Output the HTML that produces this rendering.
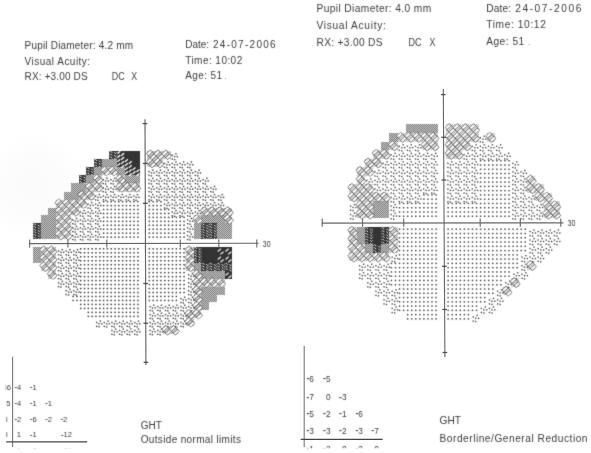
<!DOCTYPE html><html><head><meta charset="utf-8"><title>Visual field</title>
<style>html,body{margin:0;padding:0;background:#fff}svg{display:block}text{font-family:"Liberation Sans",sans-serif;fill:#3a3a3a}</style></head><body>
<svg width="591" height="453" viewBox="0 0 591 453">
<filter id="soft" x="0" y="0" width="100%" height="100%" filterUnits="userSpaceOnUse" color-interpolation-filters="sRGB"><feConvolveMatrix order="3" kernelMatrix="0.02 0.08 0.02 0.08 0.6 0.08 0.02 0.08 0.02" divisor="1" edgeMode="duplicate" preserveAlpha="true"/></filter>
<g filter="url(#soft)">
<rect width="591" height="453" fill="#fff"/>
<radialGradient id="haze" cx="34" cy="186" r="52" gradientUnits="userSpaceOnUse"><stop offset="0" stop-color="#000" stop-opacity="0.018"/><stop offset="0.6" stop-color="#000" stop-opacity="0.012"/><stop offset="1" stop-color="#000" stop-opacity="0"/></radialGradient><rect x="0" y="125" width="95" height="125" fill="url(#haze)"/>
<text x="24.6" y="48.5" font-size="10" textLength="108.4" lengthAdjust="spacing">Pupil Diameter: 4.2 mm</text>
<text x="24.6" y="64.8" font-size="10" textLength="65.5" lengthAdjust="spacing">Visual Acuity:</text>
<text x="24.6" y="79.6" font-size="10" textLength="63" lengthAdjust="spacing">RX: +3.00 DS</text>
<text x="111.7" y="79.6" font-size="10" textLength="12.9" lengthAdjust="spacingAndGlyphs">DC</text>
<text x="131.2" y="79.6" font-size="10" textLength="5.9" lengthAdjust="spacingAndGlyphs">X</text>
<text x="185.2" y="48" font-size="10" textLength="23.9" lengthAdjust="spacing">Date:</text>
<text x="213" y="48" font-size="10" textLength="62.6" lengthAdjust="spacing">24-07-2006</text>
<text x="185.2" y="63.6" font-size="10" textLength="57" lengthAdjust="spacing">Time: 10:02</text>
<text x="185.2" y="79.2" font-size="10" textLength="36.8" lengthAdjust="spacing">Age: 51</text>
<text x="224.6" y="79.2" font-size="7" fill="#c4c4c4">.</text>
<text x="316.5" y="12.3" font-size="10.2" textLength="114.7" lengthAdjust="spacing">Pupil Diameter: 4.0 mm</text>
<text x="316.5" y="28.6" font-size="10.2" textLength="69.3" lengthAdjust="spacing">Visual Acuity:</text>
<text x="316.5" y="45.8" font-size="10.2" textLength="66" lengthAdjust="spacing">RX: +3.00 DS</text>
<text x="408.4" y="45.8" font-size="10.2" textLength="13.1" lengthAdjust="spacingAndGlyphs">DC</text>
<text x="429.4" y="45.8" font-size="10.2" textLength="5.9" lengthAdjust="spacingAndGlyphs">X</text>
<text x="486.2" y="11.5" font-size="10.2" textLength="24.8" lengthAdjust="spacing">Date:</text>
<text x="515.2" y="11.5" font-size="10.2" textLength="66.2" lengthAdjust="spacing">24-07-2006</text>
<text x="486.2" y="28" font-size="10.2" textLength="59.6" lengthAdjust="spacing">Time: 10:12</text>
<text x="486.2" y="45" font-size="10.2" textLength="38" lengthAdjust="spacing">Age: 51</text>
<text x="527.9" y="45" font-size="7" fill="#c4c4c4">.</text>
<text x="140.7" y="428.6" font-size="10">GHT</text>
<text x="140.7" y="443.4" font-size="10" textLength="100.2" lengthAdjust="spacing">Outside normal limits</text>
<text x="439.5" y="423.6" font-size="10.2">GHT</text>
<text x="439.5" y="441.6" font-size="10.2" textLength="148" lengthAdjust="spacing">Borderline/General Reduction</text>
<defs>
<pattern id="chk" width="2" height="2" patternUnits="userSpaceOnUse"><rect width="2" height="2" fill="#c6c6c6"/><rect width="1" height="1" fill="#7c7c7c"/><rect x="1" y="1" width="1" height="1" fill="#7c7c7c"/></pattern>
<pattern id="chkx" width="2" height="2" patternUnits="userSpaceOnUse"><rect width="2" height="2" fill="#e6e6e6"/><rect width="1" height="1" fill="#a6a6a6"/><rect x="1" y="1" width="1" height="1" fill="#a6a6a6"/></pattern>
<pattern id="chkRx" width="2" height="2" patternUnits="userSpaceOnUse"><rect width="2" height="2" fill="#efefef"/><rect width="1" height="1" fill="#b4b4b4"/><rect x="1" y="1" width="1" height="1" fill="#b4b4b4"/></pattern>
<g id="Ld" fill="#404040"><rect x="1.18" y="1.24" width="1.5" height="1.5"/><rect x="5.03" y="1.24" width="1.5" height="1.5"/><rect x="1.18" y="5.21" width="1.5" height="1.5"/><rect x="5.03" y="5.21" width="1.5" height="1.5"/></g><g id="Ls" fill="#404040"><rect x="5.67" y="2.12" width="1.4" height="1.4"/><rect x="1.96" y="3.46" width="1.4" height="1.4"/><rect x="4.32" y="4.81" width="1.4" height="1.4"/><rect x="7.02" y="4.81" width="1.4" height="1.4"/><rect x="1.96" y="7.3" width="1.4" height="1.4"/><rect x="4.32" y="7.76" width="1.4" height="1.4"/></g><g id="Lu" fill="#404040"><rect x="4.67" y="2.42" width="1.4" height="1.4"/><rect x="0.96" y="3.76" width="1.4" height="1.4"/><rect x="3.32" y="5.11" width="1.4" height="1.4"/><rect x="6.02" y="5.11" width="1.4" height="1.4"/><rect x="0.96" y="7.6" width="1.4" height="1.4"/><rect x="3.32" y="8.06" width="1.4" height="1.4"/></g><g id="Lx"><path d="M0 3.98L3.85 7.95M3.85 0L7.7 3.98" stroke="#505050" stroke-width="0.75" fill="none"/><path d="M-0.35 4.01L4.2 -0.03" stroke="#484848" stroke-width="3.3"/><path d="M3.5 7.98L8.05 3.94" stroke="#484848" stroke-width="3.3"/><path d="M-0.04 3.73L3.89 0.25" stroke="#fff" stroke-width="2.3"/><path d="M3.81 7.7L7.74 4.22" stroke="#fff" stroke-width="2.3"/></g><g id="Lk"><path d="M1.23 0.26L2.93 1.96" stroke="#fff" stroke-width="1"/><path d="M1.23 2.97L2.93 4.67" stroke="#fff" stroke-width="1"/><path d="M1.23 5.67L2.93 7.37" stroke="#fff" stroke-width="1"/><path d="M4.85 1.53L6.55 3.23" stroke="#fff" stroke-width="1"/><path d="M4.85 4.24L6.55 5.94" stroke="#fff" stroke-width="1"/><path d="M4.85 6.94L6.55 8.64" stroke="#fff" stroke-width="1"/><path d="M0 1.59l1.1 -0.9h-1.1z M7.7 2.39l-1.1 -0.9h1.1zM0 4.21l1.1 -0.9h-1.1z M7.7 5.01l-1.1 -0.9h1.1zM0 6.84l1.1 -0.9h-1.1z M7.7 7.63l-1.1 -0.9h1.1z" fill="#fff"/></g><g id="Lv"><path d="M0.49 2.86L3.36 0.32" stroke="#f4f4f4" stroke-width="1.4"/><path d="M4.34 4.85L7.21 2.31" stroke="#f4f4f4" stroke-width="1.4"/><path d="M0.49 6.83L3.36 4.3" stroke="#f4f4f4" stroke-width="1.4"/><path d="M4.34 8.82L7.21 6.28" stroke="#f4f4f4" stroke-width="1.4"/></g><g id="Lw"><path d="M0.93 4.78L4 2.06" stroke="#e4e4e4" stroke-width="1.3"/><path d="M3.62 7.56L6.7 4.84" stroke="#e4e4e4" stroke-width="1.3"/></g><g id="Lb"><rect width="7.7" height="7.95" fill="#333"/></g>
<g id="Rd" fill="#404040"><rect x="1.3" y="1.41" width="1.45" height="1.45"/><rect x="5.37" y="1.41" width="1.45" height="1.45"/><rect x="1.3" y="5.68" width="1.45" height="1.45"/><rect x="5.37" y="5.68" width="1.45" height="1.45"/></g><g id="Rs" fill="#404040"><rect x="6.04" y="2.29" width="1.35" height="1.35"/><rect x="2.12" y="3.73" width="1.35" height="1.35"/><rect x="4.62" y="5.18" width="1.35" height="1.35"/><rect x="7.47" y="5.18" width="1.35" height="1.35"/><rect x="2.12" y="7.85" width="1.35" height="1.35"/><rect x="4.62" y="8.35" width="1.35" height="1.35"/></g><g id="Ru" fill="#404040"><rect x="5.04" y="2.59" width="1.35" height="1.35"/><rect x="1.12" y="4.03" width="1.35" height="1.35"/><rect x="3.62" y="5.48" width="1.35" height="1.35"/><rect x="6.47" y="5.48" width="1.35" height="1.35"/><rect x="1.12" y="8.15" width="1.35" height="1.35"/><rect x="3.62" y="8.65" width="1.35" height="1.35"/></g><g id="Rx"><path d="M0 4.27L4.06 8.54M4.06 0L8.12 4.27" stroke="#505050" stroke-width="0.75" fill="none"/><path d="M-0.25 4.16L4.31 0.11" stroke="#484848" stroke-width="3.3"/><path d="M3.81 8.43L8.37 4.38" stroke="#484848" stroke-width="3.3"/><path d="M0.07 3.87L3.99 0.4" stroke="#fff" stroke-width="2.3"/><path d="M4.13 8.14L8.05 4.67" stroke="#fff" stroke-width="2.3"/></g><g id="Rk"><path d="M1.34 0.35L3.04 2.05" stroke="#fff" stroke-width="1"/><path d="M1.34 3.25L3.04 4.95" stroke="#fff" stroke-width="1"/><path d="M1.34 6.15L3.04 7.85" stroke="#fff" stroke-width="1"/><path d="M5.16 1.71L6.86 3.41" stroke="#fff" stroke-width="1"/><path d="M5.16 4.62L6.86 6.32" stroke="#fff" stroke-width="1"/><path d="M5.16 7.52L6.86 9.22" stroke="#fff" stroke-width="1"/><path d="M0 1.71l1.1 -0.9h-1.1z M8.12 2.56l-1.1 -0.9h1.1zM0 4.53l1.1 -0.9h-1.1z M8.12 5.38l-1.1 -0.9h1.1zM0 7.34l1.1 -0.9h-1.1z M8.12 8.2l-1.1 -0.9h1.1z" fill="#fff"/></g><g id="Rv"><path d="M0.6 2.98L3.46 0.44" stroke="#f4f4f4" stroke-width="1.4"/><path d="M4.66 5.11L7.52 2.57" stroke="#f4f4f4" stroke-width="1.4"/><path d="M0.6 7.25L3.46 4.71" stroke="#f4f4f4" stroke-width="1.4"/><path d="M4.66 9.38L7.52 6.84" stroke="#f4f4f4" stroke-width="1.4"/></g><g id="Rw"><path d="M1.06 5.04L4.14 2.31" stroke="#e4e4e4" stroke-width="1.3"/><path d="M3.9 8.02L6.98 5.3" stroke="#e4e4e4" stroke-width="1.3"/></g><g id="Rb"><rect width="8.12" height="8.54" fill="#333"/></g>
</defs>
<rect x="109.26" y="150.81" width="7.62" height="8.14" fill="#333" shape-rendering="crispEdges"/>
<rect x="116.88" y="150.81" width="7.62" height="8.14" fill="#333" shape-rendering="crispEdges"/>
<rect x="124.5" y="150.81" width="7.62" height="8.14" fill="#333" shape-rendering="crispEdges"/>
<rect x="132.12" y="150.81" width="7.62" height="8.14" fill="#333" shape-rendering="crispEdges"/>
<rect x="147.4" y="150.81" width="7.72" height="8.14" fill="url(#chkx)" shape-rendering="crispEdges"/>
<rect x="155.12" y="150.81" width="7.72" height="8.14" fill="url(#chkx)" shape-rendering="crispEdges"/>
<rect x="162.84" y="150.81" width="7.72" height="8.14" fill="url(#chkx)" shape-rendering="crispEdges"/>
<rect x="94.02" y="158.95" width="7.62" height="8.14" fill="#333" shape-rendering="crispEdges"/>
<rect x="101.64" y="158.95" width="7.62" height="8.14" fill="url(#chk)" shape-rendering="crispEdges"/>
<rect x="109.26" y="158.95" width="7.62" height="8.14" fill="url(#chk)" shape-rendering="crispEdges"/>
<rect x="116.88" y="158.95" width="7.62" height="8.14" fill="#333" shape-rendering="crispEdges"/>
<rect x="124.5" y="158.95" width="7.62" height="8.14" fill="#333" shape-rendering="crispEdges"/>
<rect x="132.12" y="158.95" width="7.62" height="8.14" fill="#333" shape-rendering="crispEdges"/>
<rect x="147.4" y="158.95" width="7.72" height="8.14" fill="url(#chkx)" shape-rendering="crispEdges"/>
<rect x="155.12" y="158.95" width="7.72" height="8.14" fill="url(#chkx)" shape-rendering="crispEdges"/>
<rect x="86.4" y="167.09" width="7.62" height="8.14" fill="#333" shape-rendering="crispEdges"/>
<rect x="94.02" y="167.09" width="7.62" height="8.14" fill="url(#chk)" shape-rendering="crispEdges"/>
<rect x="101.64" y="167.09" width="7.62" height="8.14" fill="url(#chkx)" shape-rendering="crispEdges"/>
<rect x="109.26" y="167.09" width="7.62" height="8.14" fill="url(#chkx)" shape-rendering="crispEdges"/>
<rect x="116.88" y="167.09" width="7.62" height="8.14" fill="url(#chk)" shape-rendering="crispEdges"/>
<rect x="124.5" y="167.09" width="7.62" height="8.14" fill="#333" shape-rendering="crispEdges"/>
<rect x="132.12" y="167.09" width="7.62" height="8.14" fill="#333" shape-rendering="crispEdges"/>
<rect x="78.78" y="175.23" width="7.62" height="8.14" fill="#333" shape-rendering="crispEdges"/>
<rect x="86.4" y="175.23" width="7.62" height="8.14" fill="url(#chk)" shape-rendering="crispEdges"/>
<rect x="94.02" y="175.23" width="7.62" height="8.14" fill="url(#chkx)" shape-rendering="crispEdges"/>
<rect x="116.88" y="175.23" width="7.62" height="8.14" fill="url(#chkx)" shape-rendering="crispEdges"/>
<rect x="124.5" y="175.23" width="7.62" height="8.14" fill="url(#chk)" shape-rendering="crispEdges"/>
<rect x="132.12" y="175.23" width="7.62" height="8.14" fill="url(#chk)" shape-rendering="crispEdges"/>
<rect x="71.16" y="183.37" width="7.62" height="8.14" fill="url(#chk)" shape-rendering="crispEdges"/>
<rect x="78.78" y="183.37" width="7.62" height="8.14" fill="url(#chk)" shape-rendering="crispEdges"/>
<rect x="86.4" y="183.37" width="7.62" height="8.14" fill="url(#chkx)" shape-rendering="crispEdges"/>
<rect x="94.02" y="183.37" width="7.62" height="8.14" fill="url(#chkx)" shape-rendering="crispEdges"/>
<rect x="116.88" y="183.37" width="7.62" height="8.14" fill="url(#chkx)" shape-rendering="crispEdges"/>
<rect x="124.5" y="183.37" width="7.62" height="8.14" fill="url(#chkx)" shape-rendering="crispEdges"/>
<rect x="132.12" y="183.37" width="7.62" height="8.14" fill="url(#chkx)" shape-rendering="crispEdges"/>
<rect x="63.54" y="191.51" width="7.62" height="8.14" fill="url(#chk)" shape-rendering="crispEdges"/>
<rect x="71.16" y="191.51" width="7.62" height="8.14" fill="url(#chk)" shape-rendering="crispEdges"/>
<rect x="78.78" y="191.51" width="7.62" height="8.14" fill="url(#chkx)" shape-rendering="crispEdges"/>
<rect x="86.4" y="191.51" width="7.62" height="8.14" fill="url(#chkx)" shape-rendering="crispEdges"/>
<rect x="55.92" y="199.65" width="7.62" height="7.88" fill="url(#chkx)" shape-rendering="crispEdges"/>
<rect x="63.54" y="199.65" width="7.62" height="7.88" fill="url(#chkx)" shape-rendering="crispEdges"/>
<rect x="71.16" y="199.65" width="7.62" height="7.88" fill="url(#chkx)" shape-rendering="crispEdges"/>
<rect x="78.78" y="199.65" width="7.62" height="7.88" fill="url(#chkx)" shape-rendering="crispEdges"/>
<rect x="48.3" y="207.53" width="7.62" height="7.88" fill="url(#chk)" shape-rendering="crispEdges"/>
<rect x="55.92" y="207.53" width="7.62" height="7.88" fill="url(#chkx)" shape-rendering="crispEdges"/>
<rect x="63.54" y="207.53" width="7.62" height="7.88" fill="url(#chkx)" shape-rendering="crispEdges"/>
<rect x="71.16" y="207.53" width="7.62" height="7.88" fill="url(#chkx)" shape-rendering="crispEdges"/>
<rect x="201.44" y="207.53" width="7.72" height="7.88" fill="url(#chkx)" shape-rendering="crispEdges"/>
<rect x="209.16" y="207.53" width="7.72" height="7.88" fill="url(#chkx)" shape-rendering="crispEdges"/>
<rect x="216.88" y="207.53" width="7.72" height="7.88" fill="url(#chkx)" shape-rendering="crispEdges"/>
<rect x="224.6" y="207.53" width="7.72" height="7.88" fill="url(#chkx)" shape-rendering="crispEdges"/>
<rect x="40.68" y="215.41" width="7.62" height="7.88" fill="url(#chk)" shape-rendering="crispEdges"/>
<rect x="48.3" y="215.41" width="7.62" height="7.88" fill="url(#chk)" shape-rendering="crispEdges"/>
<rect x="55.92" y="215.41" width="7.62" height="7.88" fill="url(#chkx)" shape-rendering="crispEdges"/>
<rect x="63.54" y="215.41" width="7.62" height="7.88" fill="url(#chkx)" shape-rendering="crispEdges"/>
<rect x="193.72" y="215.41" width="7.72" height="7.88" fill="url(#chkx)" shape-rendering="crispEdges"/>
<rect x="201.44" y="215.41" width="7.72" height="7.88" fill="url(#chk)" shape-rendering="crispEdges"/>
<rect x="209.16" y="215.41" width="7.72" height="7.88" fill="url(#chk)" shape-rendering="crispEdges"/>
<rect x="216.88" y="215.41" width="7.72" height="7.88" fill="url(#chk)" shape-rendering="crispEdges"/>
<rect x="224.6" y="215.41" width="7.72" height="7.88" fill="url(#chkx)" shape-rendering="crispEdges"/>
<rect x="33.06" y="223.29" width="7.62" height="7.88" fill="#333" shape-rendering="crispEdges"/>
<rect x="40.68" y="223.29" width="7.62" height="7.88" fill="url(#chk)" shape-rendering="crispEdges"/>
<rect x="48.3" y="223.29" width="7.62" height="7.88" fill="url(#chk)" shape-rendering="crispEdges"/>
<rect x="55.92" y="223.29" width="7.62" height="7.88" fill="url(#chkx)" shape-rendering="crispEdges"/>
<rect x="63.54" y="223.29" width="7.62" height="7.88" fill="url(#chkx)" shape-rendering="crispEdges"/>
<rect x="193.72" y="223.29" width="7.72" height="7.88" fill="url(#chk)" shape-rendering="crispEdges"/>
<rect x="201.44" y="223.29" width="7.72" height="7.88" fill="#333" shape-rendering="crispEdges"/>
<rect x="209.16" y="223.29" width="7.72" height="7.88" fill="#333" shape-rendering="crispEdges"/>
<rect x="216.88" y="223.29" width="7.72" height="7.88" fill="url(#chk)" shape-rendering="crispEdges"/>
<rect x="224.6" y="223.29" width="7.72" height="7.88" fill="url(#chk)" shape-rendering="crispEdges"/>
<rect x="33.06" y="231.17" width="7.62" height="7.88" fill="#333" shape-rendering="crispEdges"/>
<rect x="40.68" y="231.17" width="7.62" height="7.88" fill="url(#chk)" shape-rendering="crispEdges"/>
<rect x="48.3" y="231.17" width="7.62" height="7.88" fill="url(#chk)" shape-rendering="crispEdges"/>
<rect x="55.92" y="231.17" width="7.62" height="7.88" fill="url(#chkx)" shape-rendering="crispEdges"/>
<rect x="63.54" y="231.17" width="7.62" height="7.88" fill="url(#chkx)" shape-rendering="crispEdges"/>
<rect x="193.72" y="231.17" width="7.72" height="7.88" fill="url(#chk)" shape-rendering="crispEdges"/>
<rect x="201.44" y="231.17" width="7.72" height="7.88" fill="#333" shape-rendering="crispEdges"/>
<rect x="209.16" y="231.17" width="7.72" height="7.88" fill="#333" shape-rendering="crispEdges"/>
<rect x="216.88" y="231.17" width="7.72" height="7.88" fill="url(#chk)" shape-rendering="crispEdges"/>
<rect x="224.6" y="231.17" width="7.72" height="7.88" fill="url(#chk)" shape-rendering="crispEdges"/>
<rect x="33.06" y="246.8" width="7.62" height="7.95" fill="url(#chk)" shape-rendering="crispEdges"/>
<rect x="40.68" y="246.8" width="7.62" height="7.95" fill="url(#chkx)" shape-rendering="crispEdges"/>
<rect x="48.3" y="246.8" width="7.62" height="7.95" fill="url(#chkx)" shape-rendering="crispEdges"/>
<rect x="186" y="246.8" width="7.72" height="7.95" fill="url(#chkx)" shape-rendering="crispEdges"/>
<rect x="193.72" y="246.8" width="7.72" height="7.95" fill="#333" shape-rendering="crispEdges"/>
<rect x="201.44" y="246.8" width="7.72" height="7.95" fill="#333" shape-rendering="crispEdges"/>
<rect x="209.16" y="246.8" width="7.72" height="7.95" fill="#333" shape-rendering="crispEdges"/>
<rect x="216.88" y="246.8" width="7.72" height="7.95" fill="#333" shape-rendering="crispEdges"/>
<rect x="224.6" y="246.8" width="7.72" height="7.95" fill="#333" shape-rendering="crispEdges"/>
<rect x="33.06" y="254.75" width="7.62" height="7.95" fill="url(#chk)" shape-rendering="crispEdges"/>
<rect x="40.68" y="254.75" width="7.62" height="7.95" fill="url(#chkx)" shape-rendering="crispEdges"/>
<rect x="48.3" y="254.75" width="7.62" height="7.95" fill="url(#chkx)" shape-rendering="crispEdges"/>
<rect x="186" y="254.75" width="7.72" height="7.95" fill="url(#chkx)" shape-rendering="crispEdges"/>
<rect x="193.72" y="254.75" width="7.72" height="7.95" fill="#333" shape-rendering="crispEdges"/>
<rect x="201.44" y="254.75" width="7.72" height="7.95" fill="#333" shape-rendering="crispEdges"/>
<rect x="209.16" y="254.75" width="7.72" height="7.95" fill="#333" shape-rendering="crispEdges"/>
<rect x="216.88" y="254.75" width="7.72" height="7.95" fill="#333" shape-rendering="crispEdges"/>
<rect x="224.6" y="254.75" width="7.72" height="7.95" fill="#333" shape-rendering="crispEdges"/>
<rect x="40.68" y="262.7" width="7.62" height="7.95" fill="url(#chkx)" shape-rendering="crispEdges"/>
<rect x="48.3" y="262.7" width="7.62" height="7.95" fill="url(#chkx)" shape-rendering="crispEdges"/>
<rect x="186" y="262.7" width="7.72" height="7.95" fill="url(#chkx)" shape-rendering="crispEdges"/>
<rect x="193.72" y="262.7" width="7.72" height="7.95" fill="url(#chk)" shape-rendering="crispEdges"/>
<rect x="201.44" y="262.7" width="7.72" height="7.95" fill="#333" shape-rendering="crispEdges"/>
<rect x="209.16" y="262.7" width="7.72" height="7.95" fill="#333" shape-rendering="crispEdges"/>
<rect x="216.88" y="262.7" width="7.72" height="7.95" fill="#333" shape-rendering="crispEdges"/>
<rect x="224.6" y="262.7" width="7.72" height="7.95" fill="#333" shape-rendering="crispEdges"/>
<rect x="48.3" y="270.65" width="7.62" height="7.95" fill="url(#chkx)" shape-rendering="crispEdges"/>
<rect x="193.72" y="270.65" width="7.72" height="7.95" fill="url(#chkx)" shape-rendering="crispEdges"/>
<rect x="201.44" y="270.65" width="7.72" height="7.95" fill="url(#chk)" shape-rendering="crispEdges"/>
<rect x="209.16" y="270.65" width="7.72" height="7.95" fill="url(#chk)" shape-rendering="crispEdges"/>
<rect x="216.88" y="270.65" width="7.72" height="7.95" fill="url(#chk)" shape-rendering="crispEdges"/>
<rect x="224.6" y="270.65" width="7.72" height="7.95" fill="#333" shape-rendering="crispEdges"/>
<rect x="193.72" y="278.6" width="7.72" height="7.95" fill="url(#chkx)" shape-rendering="crispEdges"/>
<rect x="201.44" y="278.6" width="7.72" height="7.95" fill="url(#chkx)" shape-rendering="crispEdges"/>
<rect x="209.16" y="278.6" width="7.72" height="7.95" fill="url(#chkx)" shape-rendering="crispEdges"/>
<rect x="216.88" y="278.6" width="7.72" height="7.95" fill="url(#chkx)" shape-rendering="crispEdges"/>
<rect x="193.72" y="286.55" width="7.72" height="7.95" fill="url(#chkx)" shape-rendering="crispEdges"/>
<rect x="201.44" y="286.55" width="7.72" height="7.95" fill="url(#chk)" shape-rendering="crispEdges"/>
<rect x="209.16" y="286.55" width="7.72" height="7.95" fill="url(#chk)" shape-rendering="crispEdges"/>
<rect x="216.88" y="286.55" width="7.72" height="7.95" fill="url(#chk)" shape-rendering="crispEdges"/>
<rect x="193.72" y="294.5" width="7.72" height="7.95" fill="url(#chkx)" shape-rendering="crispEdges"/>
<rect x="201.44" y="294.5" width="7.72" height="7.95" fill="url(#chk)" shape-rendering="crispEdges"/>
<rect x="209.16" y="294.5" width="7.72" height="7.95" fill="url(#chk)" shape-rendering="crispEdges"/>
<rect x="193.72" y="302.45" width="7.72" height="7.95" fill="url(#chkx)" shape-rendering="crispEdges"/>
<rect x="201.44" y="302.45" width="7.72" height="7.95" fill="url(#chk)" shape-rendering="crispEdges"/>
<rect x="186" y="310.4" width="7.72" height="7.95" fill="url(#chkx)" shape-rendering="crispEdges"/>
<rect x="193.72" y="310.4" width="7.72" height="7.95" fill="url(#chkx)" shape-rendering="crispEdges"/>
<rect x="186" y="318.35" width="7.72" height="7.95" fill="url(#chkx)" shape-rendering="crispEdges"/>
<rect x="162.84" y="326.3" width="7.72" height="7.95" fill="url(#chkx)" shape-rendering="crispEdges"/>
<rect x="170.56" y="326.3" width="7.72" height="7.95" fill="url(#chkx)" shape-rendering="crispEdges"/>
<use href="#Lk" x="109.26" y="150.81"/>
<use href="#Lv" x="116.88" y="150.81"/>
<use href="#Lx" x="147.4" y="150.81"/>
<use href="#Lx" x="155.12" y="150.81"/>
<use href="#Lx" x="162.84" y="150.81"/>
<use href="#Lu" x="170.56" y="150.81"/>
<use href="#Lk" x="94.02" y="158.95"/>
<use href="#Lv" x="116.88" y="158.95"/>
<use href="#Lv" x="124.5" y="158.95"/>
<use href="#Lx" x="147.4" y="158.95"/>
<use href="#Lx" x="155.12" y="158.95"/>
<use href="#Lu" x="162.84" y="158.95"/>
<use href="#Lu" x="170.56" y="158.95"/>
<use href="#Lu" x="178.28" y="158.95"/>
<use href="#Lu" x="186" y="158.95"/>
<use href="#Lk" x="86.4" y="167.09"/>
<use href="#Lx" x="101.64" y="167.09"/>
<use href="#Lx" x="109.26" y="167.09"/>
<use href="#Lv" x="124.5" y="167.09"/>
<use href="#Lv" x="132.12" y="167.09"/>
<use href="#Lu" x="147.4" y="167.09"/>
<use href="#Lu" x="155.12" y="167.09"/>
<use href="#Lu" x="162.84" y="167.09"/>
<use href="#Lu" x="170.56" y="167.09"/>
<use href="#Lu" x="178.28" y="167.09"/>
<use href="#Lu" x="186" y="167.09"/>
<use href="#Lu" x="193.72" y="167.09"/>
<use href="#Lk" x="78.78" y="175.23"/>
<use href="#Lx" x="94.02" y="175.23"/>
<use href="#Lu" x="101.64" y="175.23"/>
<use href="#Lu" x="109.26" y="175.23"/>
<use href="#Lx" x="116.88" y="175.23"/>
<use href="#Lu" x="147.4" y="175.23"/>
<use href="#Lu" x="155.12" y="175.23"/>
<use href="#Lu" x="162.84" y="175.23"/>
<use href="#Lu" x="170.56" y="175.23"/>
<use href="#Lu" x="178.28" y="175.23"/>
<use href="#Lu" x="186" y="175.23"/>
<use href="#Lu" x="193.72" y="175.23"/>
<use href="#Lu" x="201.44" y="175.23"/>
<use href="#Lx" x="86.4" y="183.37"/>
<use href="#Lx" x="94.02" y="183.37"/>
<use href="#Lu" x="101.64" y="183.37"/>
<use href="#Lu" x="109.26" y="183.37"/>
<use href="#Lx" x="116.88" y="183.37"/>
<use href="#Lx" x="124.5" y="183.37"/>
<use href="#Lx" x="132.12" y="183.37"/>
<use href="#Lu" x="147.4" y="183.37"/>
<use href="#Lu" x="155.12" y="183.37"/>
<use href="#Lu" x="162.84" y="183.37"/>
<use href="#Lu" x="170.56" y="183.37"/>
<use href="#Lu" x="178.28" y="183.37"/>
<use href="#Lu" x="186" y="183.37"/>
<use href="#Lu" x="193.72" y="183.37"/>
<use href="#Lu" x="201.44" y="183.37"/>
<use href="#Lu" x="209.16" y="183.37"/>
<use href="#Lx" x="78.78" y="191.51"/>
<use href="#Lx" x="86.4" y="191.51"/>
<use href="#Lu" x="94.02" y="191.51"/>
<use href="#Lu" x="101.64" y="191.51"/>
<use href="#Lu" x="109.26" y="191.51"/>
<use href="#Lu" x="116.88" y="191.51"/>
<use href="#Lu" x="124.5" y="191.51"/>
<use href="#Lu" x="132.12" y="191.51"/>
<use href="#Lu" x="147.4" y="191.51"/>
<use href="#Lu" x="155.12" y="191.51"/>
<use href="#Lu" x="162.84" y="191.51"/>
<use href="#Lu" x="170.56" y="191.51"/>
<use href="#Lu" x="178.28" y="191.51"/>
<use href="#Lu" x="186" y="191.51"/>
<use href="#Lu" x="193.72" y="191.51"/>
<use href="#Lu" x="201.44" y="191.51"/>
<use href="#Lu" x="209.16" y="191.51"/>
<use href="#Lu" x="216.88" y="191.51"/>
<use href="#Lx" x="55.92" y="199.65"/>
<use href="#Lx" x="63.54" y="199.65"/>
<use href="#Lx" x="71.16" y="199.65"/>
<use href="#Lx" x="78.78" y="199.65"/>
<use href="#Lu" x="86.4" y="199.65"/>
<use href="#Lu" x="94.02" y="199.65"/>
<use href="#Ld" x="101.64" y="199.65"/>
<use href="#Ld" x="109.26" y="199.65"/>
<use href="#Ld" x="116.88" y="199.65"/>
<use href="#Ld" x="124.5" y="199.65"/>
<use href="#Ld" x="132.12" y="199.65"/>
<use href="#Ld" x="147.4" y="199.65"/>
<use href="#Ld" x="155.12" y="199.65"/>
<use href="#Lu" x="162.84" y="199.65"/>
<use href="#Lu" x="170.56" y="199.65"/>
<use href="#Lu" x="178.28" y="199.65"/>
<use href="#Lu" x="186" y="199.65"/>
<use href="#Lu" x="193.72" y="199.65"/>
<use href="#Lu" x="201.44" y="199.65"/>
<use href="#Lu" x="209.16" y="199.65"/>
<use href="#Lu" x="216.88" y="199.65"/>
<use href="#Lx" x="55.92" y="207.53"/>
<use href="#Lx" x="63.54" y="207.53"/>
<use href="#Lx" x="71.16" y="207.53"/>
<use href="#Lu" x="78.78" y="207.53"/>
<use href="#Lu" x="86.4" y="207.53"/>
<use href="#Lu" x="94.02" y="207.53"/>
<use href="#Ld" x="101.64" y="207.53"/>
<use href="#Ld" x="109.26" y="207.53"/>
<use href="#Ld" x="116.88" y="207.53"/>
<use href="#Ld" x="124.5" y="207.53"/>
<use href="#Ld" x="132.12" y="207.53"/>
<use href="#Ld" x="147.4" y="207.53"/>
<use href="#Ld" x="155.12" y="207.53"/>
<use href="#Ld" x="162.84" y="207.53"/>
<use href="#Lu" x="170.56" y="207.53"/>
<use href="#Lu" x="178.28" y="207.53"/>
<use href="#Lu" x="186" y="207.53"/>
<use href="#Lu" x="193.72" y="207.53"/>
<use href="#Lx" x="201.44" y="207.53"/>
<use href="#Lx" x="209.16" y="207.53"/>
<use href="#Lx" x="216.88" y="207.53"/>
<use href="#Lx" x="224.6" y="207.53"/>
<use href="#Lx" x="55.92" y="215.41"/>
<use href="#Lx" x="63.54" y="215.41"/>
<use href="#Lu" x="71.16" y="215.41"/>
<use href="#Lu" x="78.78" y="215.41"/>
<use href="#Lu" x="86.4" y="215.41"/>
<use href="#Lu" x="94.02" y="215.41"/>
<use href="#Ld" x="101.64" y="215.41"/>
<use href="#Ld" x="109.26" y="215.41"/>
<use href="#Ld" x="116.88" y="215.41"/>
<use href="#Ld" x="124.5" y="215.41"/>
<use href="#Ld" x="132.12" y="215.41"/>
<use href="#Ld" x="147.4" y="215.41"/>
<use href="#Ld" x="155.12" y="215.41"/>
<use href="#Ld" x="162.84" y="215.41"/>
<use href="#Ld" x="170.56" y="215.41"/>
<use href="#Ld" x="178.28" y="215.41"/>
<use href="#Lu" x="186" y="215.41"/>
<use href="#Lx" x="193.72" y="215.41"/>
<use href="#Lx" x="224.6" y="215.41"/>
<use href="#Lk" x="33.06" y="223.29"/>
<use href="#Lx" x="55.92" y="223.29"/>
<use href="#Lx" x="63.54" y="223.29"/>
<use href="#Lu" x="71.16" y="223.29"/>
<use href="#Lu" x="78.78" y="223.29"/>
<use href="#Lu" x="86.4" y="223.29"/>
<use href="#Lu" x="94.02" y="223.29"/>
<use href="#Ld" x="101.64" y="223.29"/>
<use href="#Ld" x="109.26" y="223.29"/>
<use href="#Ld" x="116.88" y="223.29"/>
<use href="#Ld" x="124.5" y="223.29"/>
<use href="#Ld" x="132.12" y="223.29"/>
<use href="#Ld" x="147.4" y="223.29"/>
<use href="#Ld" x="155.12" y="223.29"/>
<use href="#Ld" x="162.84" y="223.29"/>
<use href="#Ld" x="170.56" y="223.29"/>
<use href="#Ld" x="178.28" y="223.29"/>
<use href="#Lu" x="186" y="223.29"/>
<use href="#Lk" x="201.44" y="223.29"/>
<use href="#Lk" x="209.16" y="223.29"/>
<use href="#Lk" x="33.06" y="231.17"/>
<use href="#Lx" x="55.92" y="231.17"/>
<use href="#Lx" x="63.54" y="231.17"/>
<use href="#Lu" x="71.16" y="231.17"/>
<use href="#Lu" x="78.78" y="231.17"/>
<use href="#Lu" x="86.4" y="231.17"/>
<use href="#Lu" x="94.02" y="231.17"/>
<use href="#Ld" x="101.64" y="231.17"/>
<use href="#Ld" x="109.26" y="231.17"/>
<use href="#Ld" x="116.88" y="231.17"/>
<use href="#Ld" x="124.5" y="231.17"/>
<use href="#Ld" x="132.12" y="231.17"/>
<use href="#Ld" x="147.4" y="231.17"/>
<use href="#Ld" x="155.12" y="231.17"/>
<use href="#Ld" x="162.84" y="231.17"/>
<use href="#Ld" x="170.56" y="231.17"/>
<use href="#Ld" x="178.28" y="231.17"/>
<use href="#Lu" x="186" y="231.17"/>
<use href="#Lk" x="201.44" y="231.17"/>
<use href="#Lk" x="209.16" y="231.17"/>
<use href="#Lx" x="40.68" y="246.8"/>
<use href="#Lx" x="48.3" y="246.8"/>
<use href="#Ls" x="55.92" y="246.8"/>
<use href="#Ls" x="63.54" y="246.8"/>
<use href="#Ls" x="71.16" y="246.8"/>
<use href="#Ld" x="78.78" y="246.8"/>
<use href="#Ld" x="86.4" y="246.8"/>
<use href="#Ld" x="94.02" y="246.8"/>
<use href="#Ld" x="101.64" y="246.8"/>
<use href="#Ld" x="109.26" y="246.8"/>
<use href="#Ld" x="116.88" y="246.8"/>
<use href="#Ld" x="124.5" y="246.8"/>
<use href="#Ld" x="132.12" y="246.8"/>
<use href="#Ld" x="147.4" y="246.8"/>
<use href="#Ld" x="155.12" y="246.8"/>
<use href="#Ld" x="162.84" y="246.8"/>
<use href="#Ld" x="170.56" y="246.8"/>
<use href="#Ld" x="178.28" y="246.8"/>
<use href="#Lx" x="186" y="246.8"/>
<use href="#Lk" x="193.72" y="246.8"/>
<use href="#Lw" x="216.88" y="246.8"/>
<use href="#Lw" x="224.6" y="246.8"/>
<use href="#Lx" x="40.68" y="254.75"/>
<use href="#Lx" x="48.3" y="254.75"/>
<use href="#Ls" x="55.92" y="254.75"/>
<use href="#Ls" x="63.54" y="254.75"/>
<use href="#Ls" x="71.16" y="254.75"/>
<use href="#Ld" x="78.78" y="254.75"/>
<use href="#Ld" x="86.4" y="254.75"/>
<use href="#Ld" x="94.02" y="254.75"/>
<use href="#Ld" x="101.64" y="254.75"/>
<use href="#Ld" x="109.26" y="254.75"/>
<use href="#Ld" x="116.88" y="254.75"/>
<use href="#Ld" x="124.5" y="254.75"/>
<use href="#Ld" x="132.12" y="254.75"/>
<use href="#Ld" x="147.4" y="254.75"/>
<use href="#Ld" x="155.12" y="254.75"/>
<use href="#Ld" x="162.84" y="254.75"/>
<use href="#Ld" x="170.56" y="254.75"/>
<use href="#Ld" x="178.28" y="254.75"/>
<use href="#Lx" x="186" y="254.75"/>
<use href="#Lk" x="193.72" y="254.75"/>
<use href="#Lw" x="216.88" y="254.75"/>
<use href="#Lw" x="224.6" y="254.75"/>
<use href="#Lx" x="40.68" y="262.7"/>
<use href="#Lx" x="48.3" y="262.7"/>
<use href="#Ls" x="55.92" y="262.7"/>
<use href="#Ls" x="63.54" y="262.7"/>
<use href="#Ls" x="71.16" y="262.7"/>
<use href="#Ld" x="78.78" y="262.7"/>
<use href="#Ld" x="86.4" y="262.7"/>
<use href="#Ld" x="94.02" y="262.7"/>
<use href="#Ld" x="101.64" y="262.7"/>
<use href="#Ld" x="109.26" y="262.7"/>
<use href="#Ld" x="116.88" y="262.7"/>
<use href="#Ld" x="124.5" y="262.7"/>
<use href="#Ld" x="132.12" y="262.7"/>
<use href="#Ld" x="147.4" y="262.7"/>
<use href="#Ld" x="155.12" y="262.7"/>
<use href="#Ld" x="162.84" y="262.7"/>
<use href="#Ld" x="170.56" y="262.7"/>
<use href="#Ld" x="178.28" y="262.7"/>
<use href="#Lx" x="186" y="262.7"/>
<use href="#Lk" x="201.44" y="262.7"/>
<use href="#Lk" x="209.16" y="262.7"/>
<use href="#Lk" x="216.88" y="262.7"/>
<use href="#Lk" x="224.6" y="262.7"/>
<use href="#Lx" x="48.3" y="270.65"/>
<use href="#Ls" x="55.92" y="270.65"/>
<use href="#Ls" x="63.54" y="270.65"/>
<use href="#Ls" x="71.16" y="270.65"/>
<use href="#Ld" x="78.78" y="270.65"/>
<use href="#Ld" x="86.4" y="270.65"/>
<use href="#Ld" x="94.02" y="270.65"/>
<use href="#Ld" x="101.64" y="270.65"/>
<use href="#Ld" x="109.26" y="270.65"/>
<use href="#Ld" x="116.88" y="270.65"/>
<use href="#Ld" x="124.5" y="270.65"/>
<use href="#Ld" x="132.12" y="270.65"/>
<use href="#Ld" x="147.4" y="270.65"/>
<use href="#Ld" x="155.12" y="270.65"/>
<use href="#Ld" x="162.84" y="270.65"/>
<use href="#Ld" x="170.56" y="270.65"/>
<use href="#Ld" x="178.28" y="270.65"/>
<use href="#Ls" x="186" y="270.65"/>
<use href="#Lx" x="193.72" y="270.65"/>
<use href="#Lw" x="224.6" y="270.65"/>
<use href="#Ls" x="55.92" y="278.6"/>
<use href="#Ls" x="63.54" y="278.6"/>
<use href="#Ls" x="71.16" y="278.6"/>
<use href="#Ld" x="78.78" y="278.6"/>
<use href="#Ld" x="86.4" y="278.6"/>
<use href="#Ld" x="94.02" y="278.6"/>
<use href="#Ld" x="101.64" y="278.6"/>
<use href="#Ld" x="109.26" y="278.6"/>
<use href="#Ld" x="116.88" y="278.6"/>
<use href="#Ld" x="124.5" y="278.6"/>
<use href="#Ld" x="132.12" y="278.6"/>
<use href="#Ld" x="147.4" y="278.6"/>
<use href="#Ld" x="155.12" y="278.6"/>
<use href="#Ld" x="162.84" y="278.6"/>
<use href="#Ld" x="170.56" y="278.6"/>
<use href="#Ld" x="178.28" y="278.6"/>
<use href="#Ls" x="186" y="278.6"/>
<use href="#Lx" x="193.72" y="278.6"/>
<use href="#Lx" x="201.44" y="278.6"/>
<use href="#Lx" x="209.16" y="278.6"/>
<use href="#Lx" x="216.88" y="278.6"/>
<use href="#Ls" x="63.54" y="286.55"/>
<use href="#Ls" x="71.16" y="286.55"/>
<use href="#Ld" x="78.78" y="286.55"/>
<use href="#Ld" x="86.4" y="286.55"/>
<use href="#Ld" x="94.02" y="286.55"/>
<use href="#Ld" x="101.64" y="286.55"/>
<use href="#Ld" x="109.26" y="286.55"/>
<use href="#Ld" x="116.88" y="286.55"/>
<use href="#Ld" x="124.5" y="286.55"/>
<use href="#Ld" x="132.12" y="286.55"/>
<use href="#Ld" x="147.4" y="286.55"/>
<use href="#Ld" x="155.12" y="286.55"/>
<use href="#Ld" x="162.84" y="286.55"/>
<use href="#Ld" x="170.56" y="286.55"/>
<use href="#Ld" x="178.28" y="286.55"/>
<use href="#Ls" x="186" y="286.55"/>
<use href="#Lx" x="193.72" y="286.55"/>
<use href="#Ld" x="71.16" y="294.5"/>
<use href="#Ld" x="78.78" y="294.5"/>
<use href="#Ld" x="86.4" y="294.5"/>
<use href="#Ld" x="94.02" y="294.5"/>
<use href="#Ld" x="101.64" y="294.5"/>
<use href="#Ld" x="109.26" y="294.5"/>
<use href="#Ld" x="116.88" y="294.5"/>
<use href="#Ld" x="124.5" y="294.5"/>
<use href="#Ld" x="132.12" y="294.5"/>
<use href="#Ld" x="147.4" y="294.5"/>
<use href="#Ld" x="155.12" y="294.5"/>
<use href="#Ld" x="162.84" y="294.5"/>
<use href="#Ld" x="170.56" y="294.5"/>
<use href="#Ls" x="178.28" y="294.5"/>
<use href="#Ls" x="186" y="294.5"/>
<use href="#Lx" x="193.72" y="294.5"/>
<use href="#Ld" x="78.78" y="302.45"/>
<use href="#Ld" x="86.4" y="302.45"/>
<use href="#Ld" x="94.02" y="302.45"/>
<use href="#Ld" x="101.64" y="302.45"/>
<use href="#Ld" x="109.26" y="302.45"/>
<use href="#Ld" x="116.88" y="302.45"/>
<use href="#Ld" x="124.5" y="302.45"/>
<use href="#Ld" x="132.12" y="302.45"/>
<use href="#Ls" x="147.4" y="302.45"/>
<use href="#Ls" x="155.12" y="302.45"/>
<use href="#Ls" x="162.84" y="302.45"/>
<use href="#Ls" x="170.56" y="302.45"/>
<use href="#Ls" x="178.28" y="302.45"/>
<use href="#Ls" x="186" y="302.45"/>
<use href="#Lx" x="193.72" y="302.45"/>
<use href="#Ld" x="86.4" y="310.4"/>
<use href="#Ld" x="94.02" y="310.4"/>
<use href="#Ld" x="101.64" y="310.4"/>
<use href="#Ld" x="109.26" y="310.4"/>
<use href="#Ld" x="116.88" y="310.4"/>
<use href="#Ld" x="124.5" y="310.4"/>
<use href="#Ld" x="132.12" y="310.4"/>
<use href="#Ls" x="147.4" y="310.4"/>
<use href="#Ls" x="155.12" y="310.4"/>
<use href="#Ls" x="162.84" y="310.4"/>
<use href="#Ls" x="170.56" y="310.4"/>
<use href="#Ls" x="178.28" y="310.4"/>
<use href="#Lx" x="186" y="310.4"/>
<use href="#Lx" x="193.72" y="310.4"/>
<use href="#Ls" x="94.02" y="318.35"/>
<use href="#Ls" x="101.64" y="318.35"/>
<use href="#Ls" x="109.26" y="318.35"/>
<use href="#Ls" x="116.88" y="318.35"/>
<use href="#Ls" x="124.5" y="318.35"/>
<use href="#Ls" x="132.12" y="318.35"/>
<use href="#Ls" x="147.4" y="318.35"/>
<use href="#Ls" x="155.12" y="318.35"/>
<use href="#Ls" x="162.84" y="318.35"/>
<use href="#Ls" x="170.56" y="318.35"/>
<use href="#Ls" x="178.28" y="318.35"/>
<use href="#Lx" x="186" y="318.35"/>
<use href="#Ls" x="109.26" y="326.3"/>
<use href="#Ls" x="116.88" y="326.3"/>
<use href="#Ls" x="124.5" y="326.3"/>
<use href="#Ls" x="132.12" y="326.3"/>
<use href="#Ls" x="147.4" y="326.3"/>
<use href="#Ls" x="155.12" y="326.3"/>
<use href="#Lx" x="162.84" y="326.3"/>
<use href="#Lx" x="170.56" y="326.3"/>
<rect x="405.62" y="124.46" width="8.12" height="8.54" fill="url(#chk)" shape-rendering="crispEdges"/>
<rect x="413.74" y="124.46" width="8.12" height="8.54" fill="url(#chk)" shape-rendering="crispEdges"/>
<rect x="421.86" y="124.46" width="8.12" height="8.54" fill="url(#chk)" shape-rendering="crispEdges"/>
<rect x="429.98" y="124.46" width="8.12" height="8.54" fill="url(#chk)" shape-rendering="crispEdges"/>
<rect x="446.1" y="124.46" width="8.12" height="8.54" fill="url(#chkRx)" shape-rendering="crispEdges"/>
<rect x="454.22" y="124.46" width="8.12" height="8.54" fill="url(#chkRx)" shape-rendering="crispEdges"/>
<rect x="462.34" y="124.46" width="8.12" height="8.54" fill="url(#chkRx)" shape-rendering="crispEdges"/>
<rect x="470.46" y="124.46" width="8.12" height="8.54" fill="url(#chkRx)" shape-rendering="crispEdges"/>
<rect x="389.38" y="133" width="8.12" height="8.54" fill="url(#chk)" shape-rendering="crispEdges"/>
<rect x="397.5" y="133" width="8.12" height="8.54" fill="url(#chkRx)" shape-rendering="crispEdges"/>
<rect x="405.62" y="133" width="8.12" height="8.54" fill="url(#chkRx)" shape-rendering="crispEdges"/>
<rect x="413.74" y="133" width="8.12" height="8.54" fill="url(#chkRx)" shape-rendering="crispEdges"/>
<rect x="421.86" y="133" width="8.12" height="8.54" fill="url(#chkRx)" shape-rendering="crispEdges"/>
<rect x="429.98" y="133" width="8.12" height="8.54" fill="url(#chkRx)" shape-rendering="crispEdges"/>
<rect x="446.1" y="133" width="8.12" height="8.54" fill="url(#chkRx)" shape-rendering="crispEdges"/>
<rect x="454.22" y="133" width="8.12" height="8.54" fill="url(#chkRx)" shape-rendering="crispEdges"/>
<rect x="462.34" y="133" width="8.12" height="8.54" fill="url(#chkRx)" shape-rendering="crispEdges"/>
<rect x="470.46" y="133" width="8.12" height="8.54" fill="url(#chkRx)" shape-rendering="crispEdges"/>
<rect x="486.7" y="133" width="8.12" height="8.54" fill="url(#chkRx)" shape-rendering="crispEdges"/>
<rect x="381.26" y="141.54" width="8.12" height="8.54" fill="url(#chk)" shape-rendering="crispEdges"/>
<rect x="389.38" y="141.54" width="8.12" height="8.54" fill="url(#chkRx)" shape-rendering="crispEdges"/>
<rect x="421.86" y="141.54" width="8.12" height="8.54" fill="url(#chkRx)" shape-rendering="crispEdges"/>
<rect x="429.98" y="141.54" width="8.12" height="8.54" fill="url(#chkRx)" shape-rendering="crispEdges"/>
<rect x="446.1" y="141.54" width="8.12" height="8.54" fill="url(#chkRx)" shape-rendering="crispEdges"/>
<rect x="454.22" y="141.54" width="8.12" height="8.54" fill="url(#chkRx)" shape-rendering="crispEdges"/>
<rect x="462.34" y="141.54" width="8.12" height="8.54" fill="url(#chkRx)" shape-rendering="crispEdges"/>
<rect x="373.14" y="150.08" width="8.12" height="8.54" fill="url(#chkRx)" shape-rendering="crispEdges"/>
<rect x="381.26" y="150.08" width="8.12" height="8.54" fill="url(#chkRx)" shape-rendering="crispEdges"/>
<rect x="446.1" y="150.08" width="8.12" height="8.54" fill="url(#chkRx)" shape-rendering="crispEdges"/>
<rect x="454.22" y="150.08" width="8.12" height="8.54" fill="url(#chkRx)" shape-rendering="crispEdges"/>
<rect x="365.02" y="158.62" width="8.12" height="8.54" fill="url(#chkRx)" shape-rendering="crispEdges"/>
<rect x="373.14" y="158.62" width="8.12" height="8.54" fill="url(#chkRx)" shape-rendering="crispEdges"/>
<rect x="356.9" y="167.16" width="8.12" height="8.54" fill="url(#chkRx)" shape-rendering="crispEdges"/>
<rect x="365.02" y="167.16" width="8.12" height="8.54" fill="url(#chkRx)" shape-rendering="crispEdges"/>
<rect x="356.9" y="175.7" width="8.12" height="8.54" fill="url(#chkRx)" shape-rendering="crispEdges"/>
<rect x="527.3" y="175.7" width="8.12" height="8.54" fill="url(#chkRx)" shape-rendering="crispEdges"/>
<rect x="348.78" y="184.24" width="8.12" height="8.54" fill="url(#chkRx)" shape-rendering="crispEdges"/>
<rect x="356.9" y="184.24" width="8.12" height="8.54" fill="url(#chkRx)" shape-rendering="crispEdges"/>
<rect x="365.02" y="184.24" width="8.12" height="8.54" fill="url(#chkRx)" shape-rendering="crispEdges"/>
<rect x="527.3" y="184.24" width="8.12" height="8.54" fill="url(#chkRx)" shape-rendering="crispEdges"/>
<rect x="535.42" y="184.24" width="8.12" height="8.54" fill="url(#chkRx)" shape-rendering="crispEdges"/>
<rect x="348.78" y="192.78" width="8.12" height="8.54" fill="url(#chkRx)" shape-rendering="crispEdges"/>
<rect x="356.9" y="192.78" width="8.12" height="8.54" fill="url(#chkRx)" shape-rendering="crispEdges"/>
<rect x="365.02" y="192.78" width="8.12" height="8.54" fill="url(#chkRx)" shape-rendering="crispEdges"/>
<rect x="373.14" y="192.78" width="8.12" height="8.54" fill="url(#chkRx)" shape-rendering="crispEdges"/>
<rect x="381.26" y="192.78" width="8.12" height="8.54" fill="url(#chkRx)" shape-rendering="crispEdges"/>
<rect x="535.42" y="192.78" width="8.12" height="8.54" fill="url(#chkRx)" shape-rendering="crispEdges"/>
<rect x="543.54" y="192.78" width="8.12" height="8.54" fill="url(#chkRx)" shape-rendering="crispEdges"/>
<rect x="356.9" y="201.32" width="8.12" height="8.54" fill="url(#chkRx)" shape-rendering="crispEdges"/>
<rect x="365.02" y="201.32" width="8.12" height="8.54" fill="url(#chkRx)" shape-rendering="crispEdges"/>
<rect x="373.14" y="201.32" width="8.12" height="8.54" fill="url(#chk)" shape-rendering="crispEdges"/>
<rect x="381.26" y="201.32" width="8.12" height="8.54" fill="url(#chk)" shape-rendering="crispEdges"/>
<rect x="543.54" y="201.32" width="8.12" height="8.54" fill="url(#chkRx)" shape-rendering="crispEdges"/>
<rect x="551.66" y="201.32" width="8.12" height="8.54" fill="url(#chkRx)" shape-rendering="crispEdges"/>
<rect x="356.9" y="209.86" width="8.12" height="8.54" fill="url(#chkRx)" shape-rendering="crispEdges"/>
<rect x="365.02" y="209.86" width="8.12" height="8.54" fill="url(#chkRx)" shape-rendering="crispEdges"/>
<rect x="373.14" y="209.86" width="8.12" height="8.54" fill="url(#chk)" shape-rendering="crispEdges"/>
<rect x="381.26" y="209.86" width="8.12" height="8.54" fill="url(#chk)" shape-rendering="crispEdges"/>
<rect x="543.54" y="209.86" width="8.12" height="8.54" fill="url(#chkRx)" shape-rendering="crispEdges"/>
<rect x="551.66" y="209.86" width="8.12" height="8.54" fill="url(#chkRx)" shape-rendering="crispEdges"/>
<rect x="348.78" y="227.1" width="8.12" height="8.54" fill="url(#chkRx)" shape-rendering="crispEdges"/>
<rect x="356.9" y="227.1" width="8.12" height="8.54" fill="url(#chk)" shape-rendering="crispEdges"/>
<rect x="365.02" y="227.1" width="8.12" height="8.54" fill="#333" shape-rendering="crispEdges"/>
<rect x="373.14" y="227.1" width="8.12" height="8.54" fill="#333" shape-rendering="crispEdges"/>
<rect x="381.26" y="227.1" width="8.12" height="8.54" fill="#333" shape-rendering="crispEdges"/>
<rect x="389.38" y="227.1" width="8.12" height="8.54" fill="url(#chkRx)" shape-rendering="crispEdges"/>
<rect x="348.78" y="235.64" width="8.12" height="8.54" fill="url(#chkRx)" shape-rendering="crispEdges"/>
<rect x="356.9" y="235.64" width="8.12" height="8.54" fill="url(#chk)" shape-rendering="crispEdges"/>
<rect x="365.02" y="235.64" width="8.12" height="8.54" fill="#333" shape-rendering="crispEdges"/>
<rect x="373.14" y="235.64" width="8.12" height="8.54" fill="#333" shape-rendering="crispEdges"/>
<rect x="381.26" y="235.64" width="8.12" height="8.54" fill="#333" shape-rendering="crispEdges"/>
<rect x="389.38" y="235.64" width="8.12" height="8.54" fill="url(#chkRx)" shape-rendering="crispEdges"/>
<rect x="348.78" y="244.18" width="8.12" height="8.54" fill="url(#chkRx)" shape-rendering="crispEdges"/>
<rect x="356.9" y="244.18" width="8.12" height="8.54" fill="url(#chkRx)" shape-rendering="crispEdges"/>
<rect x="365.02" y="244.18" width="8.12" height="8.54" fill="url(#chk)" shape-rendering="crispEdges"/>
<rect x="373.14" y="244.18" width="8.12" height="8.54" fill="#333" shape-rendering="crispEdges"/>
<rect x="381.26" y="244.18" width="8.12" height="8.54" fill="url(#chk)" shape-rendering="crispEdges"/>
<rect x="389.38" y="244.18" width="8.12" height="8.54" fill="url(#chkRx)" shape-rendering="crispEdges"/>
<rect x="348.78" y="252.72" width="8.12" height="8.54" fill="url(#chkRx)" shape-rendering="crispEdges"/>
<rect x="356.9" y="252.72" width="8.12" height="8.54" fill="url(#chkRx)" shape-rendering="crispEdges"/>
<rect x="365.02" y="252.72" width="8.12" height="8.54" fill="url(#chkRx)" shape-rendering="crispEdges"/>
<rect x="373.14" y="252.72" width="8.12" height="8.54" fill="url(#chkRx)" shape-rendering="crispEdges"/>
<rect x="381.26" y="252.72" width="8.12" height="8.54" fill="url(#chkRx)" shape-rendering="crispEdges"/>
<rect x="527.3" y="261.26" width="8.12" height="8.54" fill="url(#chkRx)" shape-rendering="crispEdges"/>
<rect x="511.06" y="278.34" width="8.12" height="8.54" fill="url(#chkRx)" shape-rendering="crispEdges"/>
<rect x="502.94" y="286.88" width="8.12" height="8.54" fill="url(#chkRx)" shape-rendering="crispEdges"/>
<use href="#Rx" x="446.1" y="124.46"/>
<use href="#Rx" x="454.22" y="124.46"/>
<use href="#Rx" x="462.34" y="124.46"/>
<use href="#Rx" x="470.46" y="124.46"/>
<use href="#Rx" x="397.5" y="133"/>
<use href="#Rx" x="405.62" y="133"/>
<use href="#Rx" x="413.74" y="133"/>
<use href="#Rx" x="421.86" y="133"/>
<use href="#Rx" x="429.98" y="133"/>
<use href="#Rx" x="446.1" y="133"/>
<use href="#Rx" x="454.22" y="133"/>
<use href="#Rx" x="462.34" y="133"/>
<use href="#Rx" x="470.46" y="133"/>
<use href="#Ru" x="478.58" y="133"/>
<use href="#Rx" x="486.7" y="133"/>
<use href="#Rx" x="389.38" y="141.54"/>
<use href="#Ru" x="397.5" y="141.54"/>
<use href="#Ru" x="405.62" y="141.54"/>
<use href="#Ru" x="413.74" y="141.54"/>
<use href="#Rx" x="421.86" y="141.54"/>
<use href="#Rx" x="429.98" y="141.54"/>
<use href="#Rx" x="446.1" y="141.54"/>
<use href="#Rx" x="454.22" y="141.54"/>
<use href="#Rx" x="462.34" y="141.54"/>
<use href="#Ru" x="470.46" y="141.54"/>
<use href="#Ru" x="478.58" y="141.54"/>
<use href="#Ru" x="486.7" y="141.54"/>
<use href="#Ru" x="494.82" y="141.54"/>
<use href="#Rx" x="373.14" y="150.08"/>
<use href="#Rx" x="381.26" y="150.08"/>
<use href="#Ru" x="389.38" y="150.08"/>
<use href="#Ru" x="397.5" y="150.08"/>
<use href="#Ru" x="405.62" y="150.08"/>
<use href="#Ru" x="413.74" y="150.08"/>
<use href="#Ru" x="421.86" y="150.08"/>
<use href="#Ru" x="429.98" y="150.08"/>
<use href="#Rx" x="446.1" y="150.08"/>
<use href="#Rx" x="454.22" y="150.08"/>
<use href="#Ru" x="462.34" y="150.08"/>
<use href="#Ru" x="470.46" y="150.08"/>
<use href="#Ru" x="478.58" y="150.08"/>
<use href="#Ru" x="486.7" y="150.08"/>
<use href="#Ru" x="494.82" y="150.08"/>
<use href="#Ru" x="502.94" y="150.08"/>
<use href="#Rx" x="365.02" y="158.62"/>
<use href="#Rx" x="373.14" y="158.62"/>
<use href="#Ru" x="381.26" y="158.62"/>
<use href="#Ru" x="389.38" y="158.62"/>
<use href="#Ru" x="397.5" y="158.62"/>
<use href="#Ru" x="405.62" y="158.62"/>
<use href="#Ru" x="413.74" y="158.62"/>
<use href="#Ru" x="421.86" y="158.62"/>
<use href="#Ru" x="429.98" y="158.62"/>
<use href="#Ru" x="446.1" y="158.62"/>
<use href="#Ru" x="454.22" y="158.62"/>
<use href="#Ru" x="462.34" y="158.62"/>
<use href="#Ru" x="470.46" y="158.62"/>
<use href="#Rd" x="478.58" y="158.62"/>
<use href="#Rd" x="486.7" y="158.62"/>
<use href="#Rd" x="494.82" y="158.62"/>
<use href="#Rd" x="502.94" y="158.62"/>
<use href="#Ru" x="511.06" y="158.62"/>
<use href="#Rx" x="356.9" y="167.16"/>
<use href="#Rx" x="365.02" y="167.16"/>
<use href="#Ru" x="373.14" y="167.16"/>
<use href="#Ru" x="381.26" y="167.16"/>
<use href="#Ru" x="389.38" y="167.16"/>
<use href="#Ru" x="397.5" y="167.16"/>
<use href="#Ru" x="405.62" y="167.16"/>
<use href="#Ru" x="413.74" y="167.16"/>
<use href="#Ru" x="421.86" y="167.16"/>
<use href="#Ru" x="429.98" y="167.16"/>
<use href="#Ru" x="446.1" y="167.16"/>
<use href="#Ru" x="454.22" y="167.16"/>
<use href="#Ru" x="462.34" y="167.16"/>
<use href="#Ru" x="470.46" y="167.16"/>
<use href="#Rd" x="478.58" y="167.16"/>
<use href="#Rd" x="486.7" y="167.16"/>
<use href="#Rd" x="494.82" y="167.16"/>
<use href="#Rd" x="502.94" y="167.16"/>
<use href="#Ru" x="511.06" y="167.16"/>
<use href="#Ru" x="519.18" y="167.16"/>
<use href="#Rx" x="356.9" y="175.7"/>
<use href="#Ru" x="365.02" y="175.7"/>
<use href="#Ru" x="373.14" y="175.7"/>
<use href="#Ru" x="381.26" y="175.7"/>
<use href="#Ru" x="389.38" y="175.7"/>
<use href="#Ru" x="397.5" y="175.7"/>
<use href="#Ru" x="405.62" y="175.7"/>
<use href="#Ru" x="413.74" y="175.7"/>
<use href="#Ru" x="421.86" y="175.7"/>
<use href="#Ru" x="429.98" y="175.7"/>
<use href="#Ru" x="446.1" y="175.7"/>
<use href="#Ru" x="454.22" y="175.7"/>
<use href="#Ru" x="462.34" y="175.7"/>
<use href="#Ru" x="470.46" y="175.7"/>
<use href="#Rd" x="478.58" y="175.7"/>
<use href="#Rd" x="486.7" y="175.7"/>
<use href="#Rd" x="494.82" y="175.7"/>
<use href="#Rd" x="502.94" y="175.7"/>
<use href="#Ru" x="511.06" y="175.7"/>
<use href="#Ru" x="519.18" y="175.7"/>
<use href="#Rx" x="527.3" y="175.7"/>
<use href="#Rx" x="348.78" y="184.24"/>
<use href="#Rx" x="356.9" y="184.24"/>
<use href="#Rx" x="365.02" y="184.24"/>
<use href="#Ru" x="373.14" y="184.24"/>
<use href="#Ru" x="381.26" y="184.24"/>
<use href="#Ru" x="389.38" y="184.24"/>
<use href="#Ru" x="397.5" y="184.24"/>
<use href="#Ru" x="405.62" y="184.24"/>
<use href="#Ru" x="413.74" y="184.24"/>
<use href="#Ru" x="421.86" y="184.24"/>
<use href="#Ru" x="429.98" y="184.24"/>
<use href="#Ru" x="446.1" y="184.24"/>
<use href="#Ru" x="454.22" y="184.24"/>
<use href="#Ru" x="462.34" y="184.24"/>
<use href="#Ru" x="470.46" y="184.24"/>
<use href="#Rd" x="478.58" y="184.24"/>
<use href="#Rd" x="486.7" y="184.24"/>
<use href="#Rd" x="494.82" y="184.24"/>
<use href="#Rd" x="502.94" y="184.24"/>
<use href="#Ru" x="511.06" y="184.24"/>
<use href="#Ru" x="519.18" y="184.24"/>
<use href="#Rx" x="527.3" y="184.24"/>
<use href="#Rx" x="535.42" y="184.24"/>
<use href="#Rx" x="348.78" y="192.78"/>
<use href="#Rx" x="356.9" y="192.78"/>
<use href="#Rx" x="365.02" y="192.78"/>
<use href="#Rx" x="373.14" y="192.78"/>
<use href="#Rx" x="381.26" y="192.78"/>
<use href="#Ru" x="389.38" y="192.78"/>
<use href="#Ru" x="397.5" y="192.78"/>
<use href="#Ru" x="405.62" y="192.78"/>
<use href="#Ru" x="413.74" y="192.78"/>
<use href="#Rd" x="421.86" y="192.78"/>
<use href="#Rd" x="429.98" y="192.78"/>
<use href="#Ru" x="446.1" y="192.78"/>
<use href="#Ru" x="454.22" y="192.78"/>
<use href="#Ru" x="462.34" y="192.78"/>
<use href="#Ru" x="470.46" y="192.78"/>
<use href="#Rd" x="478.58" y="192.78"/>
<use href="#Rd" x="486.7" y="192.78"/>
<use href="#Rd" x="494.82" y="192.78"/>
<use href="#Rd" x="502.94" y="192.78"/>
<use href="#Ru" x="511.06" y="192.78"/>
<use href="#Ru" x="519.18" y="192.78"/>
<use href="#Ru" x="527.3" y="192.78"/>
<use href="#Rx" x="535.42" y="192.78"/>
<use href="#Rx" x="543.54" y="192.78"/>
<use href="#Ru" x="348.78" y="201.32"/>
<use href="#Rx" x="356.9" y="201.32"/>
<use href="#Rx" x="365.02" y="201.32"/>
<use href="#Ru" x="389.38" y="201.32"/>
<use href="#Rd" x="397.5" y="201.32"/>
<use href="#Rd" x="405.62" y="201.32"/>
<use href="#Rd" x="413.74" y="201.32"/>
<use href="#Rd" x="421.86" y="201.32"/>
<use href="#Rd" x="429.98" y="201.32"/>
<use href="#Rd" x="446.1" y="201.32"/>
<use href="#Rd" x="454.22" y="201.32"/>
<use href="#Rd" x="462.34" y="201.32"/>
<use href="#Rd" x="470.46" y="201.32"/>
<use href="#Rd" x="478.58" y="201.32"/>
<use href="#Rd" x="486.7" y="201.32"/>
<use href="#Rd" x="494.82" y="201.32"/>
<use href="#Rd" x="502.94" y="201.32"/>
<use href="#Ru" x="511.06" y="201.32"/>
<use href="#Ru" x="519.18" y="201.32"/>
<use href="#Ru" x="527.3" y="201.32"/>
<use href="#Ru" x="535.42" y="201.32"/>
<use href="#Rx" x="543.54" y="201.32"/>
<use href="#Rx" x="551.66" y="201.32"/>
<use href="#Ru" x="348.78" y="209.86"/>
<use href="#Rx" x="356.9" y="209.86"/>
<use href="#Rx" x="365.02" y="209.86"/>
<use href="#Ru" x="389.38" y="209.86"/>
<use href="#Rd" x="397.5" y="209.86"/>
<use href="#Rd" x="405.62" y="209.86"/>
<use href="#Rd" x="413.74" y="209.86"/>
<use href="#Rd" x="421.86" y="209.86"/>
<use href="#Rd" x="429.98" y="209.86"/>
<use href="#Rd" x="446.1" y="209.86"/>
<use href="#Rd" x="454.22" y="209.86"/>
<use href="#Rd" x="462.34" y="209.86"/>
<use href="#Rd" x="470.46" y="209.86"/>
<use href="#Rd" x="478.58" y="209.86"/>
<use href="#Rd" x="486.7" y="209.86"/>
<use href="#Rd" x="494.82" y="209.86"/>
<use href="#Rd" x="502.94" y="209.86"/>
<use href="#Ru" x="511.06" y="209.86"/>
<use href="#Ru" x="519.18" y="209.86"/>
<use href="#Ru" x="527.3" y="209.86"/>
<use href="#Ru" x="535.42" y="209.86"/>
<use href="#Rx" x="543.54" y="209.86"/>
<use href="#Rx" x="551.66" y="209.86"/>
<use href="#Rx" x="348.78" y="227.1"/>
<use href="#Rk" x="365.02" y="227.1"/>
<use href="#Rk" x="381.26" y="227.1"/>
<use href="#Rx" x="389.38" y="227.1"/>
<use href="#Rd" x="397.5" y="227.1"/>
<use href="#Rd" x="405.62" y="227.1"/>
<use href="#Rd" x="413.74" y="227.1"/>
<use href="#Rd" x="421.86" y="227.1"/>
<use href="#Rd" x="429.98" y="227.1"/>
<use href="#Rd" x="446.1" y="227.1"/>
<use href="#Rd" x="454.22" y="227.1"/>
<use href="#Rd" x="462.34" y="227.1"/>
<use href="#Rd" x="470.46" y="227.1"/>
<use href="#Rd" x="478.58" y="227.1"/>
<use href="#Rd" x="486.7" y="227.1"/>
<use href="#Rd" x="494.82" y="227.1"/>
<use href="#Rd" x="502.94" y="227.1"/>
<use href="#Rd" x="511.06" y="227.1"/>
<use href="#Rd" x="519.18" y="227.1"/>
<use href="#Rs" x="527.3" y="227.1"/>
<use href="#Rs" x="535.42" y="227.1"/>
<use href="#Rs" x="543.54" y="227.1"/>
<use href="#Rs" x="551.66" y="227.1"/>
<use href="#Rx" x="348.78" y="235.64"/>
<use href="#Rk" x="365.02" y="235.64"/>
<use href="#Rk" x="381.26" y="235.64"/>
<use href="#Rx" x="389.38" y="235.64"/>
<use href="#Rd" x="397.5" y="235.64"/>
<use href="#Rd" x="405.62" y="235.64"/>
<use href="#Rd" x="413.74" y="235.64"/>
<use href="#Rd" x="421.86" y="235.64"/>
<use href="#Rd" x="429.98" y="235.64"/>
<use href="#Rd" x="446.1" y="235.64"/>
<use href="#Rd" x="454.22" y="235.64"/>
<use href="#Rd" x="462.34" y="235.64"/>
<use href="#Rd" x="470.46" y="235.64"/>
<use href="#Rd" x="478.58" y="235.64"/>
<use href="#Rd" x="486.7" y="235.64"/>
<use href="#Rd" x="494.82" y="235.64"/>
<use href="#Rd" x="502.94" y="235.64"/>
<use href="#Rd" x="511.06" y="235.64"/>
<use href="#Rd" x="519.18" y="235.64"/>
<use href="#Rs" x="527.3" y="235.64"/>
<use href="#Rs" x="535.42" y="235.64"/>
<use href="#Rs" x="543.54" y="235.64"/>
<use href="#Rs" x="551.66" y="235.64"/>
<use href="#Rx" x="348.78" y="244.18"/>
<use href="#Rx" x="356.9" y="244.18"/>
<use href="#Rk" x="373.14" y="244.18"/>
<use href="#Rx" x="389.38" y="244.18"/>
<use href="#Rd" x="397.5" y="244.18"/>
<use href="#Rd" x="405.62" y="244.18"/>
<use href="#Rd" x="413.74" y="244.18"/>
<use href="#Rd" x="421.86" y="244.18"/>
<use href="#Rd" x="429.98" y="244.18"/>
<use href="#Rd" x="446.1" y="244.18"/>
<use href="#Rd" x="454.22" y="244.18"/>
<use href="#Rd" x="462.34" y="244.18"/>
<use href="#Rd" x="470.46" y="244.18"/>
<use href="#Rd" x="478.58" y="244.18"/>
<use href="#Rd" x="486.7" y="244.18"/>
<use href="#Rd" x="494.82" y="244.18"/>
<use href="#Rd" x="502.94" y="244.18"/>
<use href="#Rd" x="511.06" y="244.18"/>
<use href="#Rd" x="519.18" y="244.18"/>
<use href="#Rs" x="527.3" y="244.18"/>
<use href="#Rs" x="535.42" y="244.18"/>
<use href="#Rs" x="543.54" y="244.18"/>
<use href="#Rx" x="348.78" y="252.72"/>
<use href="#Rx" x="356.9" y="252.72"/>
<use href="#Rx" x="365.02" y="252.72"/>
<use href="#Rx" x="373.14" y="252.72"/>
<use href="#Rx" x="381.26" y="252.72"/>
<use href="#Rs" x="389.38" y="252.72"/>
<use href="#Rd" x="397.5" y="252.72"/>
<use href="#Rd" x="405.62" y="252.72"/>
<use href="#Rd" x="413.74" y="252.72"/>
<use href="#Rd" x="421.86" y="252.72"/>
<use href="#Rd" x="429.98" y="252.72"/>
<use href="#Rd" x="446.1" y="252.72"/>
<use href="#Rd" x="454.22" y="252.72"/>
<use href="#Rd" x="462.34" y="252.72"/>
<use href="#Rd" x="470.46" y="252.72"/>
<use href="#Rd" x="478.58" y="252.72"/>
<use href="#Rd" x="486.7" y="252.72"/>
<use href="#Rd" x="494.82" y="252.72"/>
<use href="#Rd" x="502.94" y="252.72"/>
<use href="#Rd" x="511.06" y="252.72"/>
<use href="#Rs" x="519.18" y="252.72"/>
<use href="#Rs" x="527.3" y="252.72"/>
<use href="#Rs" x="535.42" y="252.72"/>
<use href="#Rs" x="356.9" y="261.26"/>
<use href="#Rs" x="365.02" y="261.26"/>
<use href="#Rs" x="373.14" y="261.26"/>
<use href="#Rs" x="381.26" y="261.26"/>
<use href="#Rd" x="389.38" y="261.26"/>
<use href="#Rd" x="397.5" y="261.26"/>
<use href="#Rd" x="405.62" y="261.26"/>
<use href="#Rd" x="413.74" y="261.26"/>
<use href="#Rd" x="421.86" y="261.26"/>
<use href="#Rd" x="429.98" y="261.26"/>
<use href="#Rd" x="446.1" y="261.26"/>
<use href="#Rd" x="454.22" y="261.26"/>
<use href="#Rd" x="462.34" y="261.26"/>
<use href="#Rd" x="470.46" y="261.26"/>
<use href="#Rd" x="478.58" y="261.26"/>
<use href="#Rd" x="486.7" y="261.26"/>
<use href="#Rd" x="494.82" y="261.26"/>
<use href="#Rd" x="502.94" y="261.26"/>
<use href="#Rd" x="511.06" y="261.26"/>
<use href="#Rs" x="519.18" y="261.26"/>
<use href="#Rx" x="527.3" y="261.26"/>
<use href="#Rs" x="356.9" y="269.8"/>
<use href="#Rs" x="365.02" y="269.8"/>
<use href="#Rs" x="373.14" y="269.8"/>
<use href="#Rs" x="381.26" y="269.8"/>
<use href="#Rd" x="389.38" y="269.8"/>
<use href="#Rd" x="397.5" y="269.8"/>
<use href="#Rd" x="405.62" y="269.8"/>
<use href="#Rd" x="413.74" y="269.8"/>
<use href="#Rd" x="421.86" y="269.8"/>
<use href="#Rd" x="429.98" y="269.8"/>
<use href="#Rd" x="446.1" y="269.8"/>
<use href="#Rd" x="454.22" y="269.8"/>
<use href="#Rd" x="462.34" y="269.8"/>
<use href="#Rd" x="470.46" y="269.8"/>
<use href="#Rd" x="478.58" y="269.8"/>
<use href="#Rd" x="486.7" y="269.8"/>
<use href="#Rd" x="494.82" y="269.8"/>
<use href="#Rd" x="502.94" y="269.8"/>
<use href="#Rs" x="511.06" y="269.8"/>
<use href="#Rs" x="519.18" y="269.8"/>
<use href="#Rs" x="365.02" y="278.34"/>
<use href="#Rs" x="373.14" y="278.34"/>
<use href="#Rs" x="381.26" y="278.34"/>
<use href="#Rd" x="389.38" y="278.34"/>
<use href="#Rd" x="397.5" y="278.34"/>
<use href="#Rd" x="405.62" y="278.34"/>
<use href="#Rd" x="413.74" y="278.34"/>
<use href="#Rd" x="421.86" y="278.34"/>
<use href="#Rd" x="429.98" y="278.34"/>
<use href="#Rd" x="446.1" y="278.34"/>
<use href="#Rd" x="454.22" y="278.34"/>
<use href="#Rd" x="462.34" y="278.34"/>
<use href="#Rd" x="470.46" y="278.34"/>
<use href="#Rd" x="478.58" y="278.34"/>
<use href="#Rd" x="486.7" y="278.34"/>
<use href="#Rd" x="494.82" y="278.34"/>
<use href="#Rs" x="502.94" y="278.34"/>
<use href="#Rx" x="511.06" y="278.34"/>
<use href="#Rs" x="373.14" y="286.88"/>
<use href="#Rs" x="381.26" y="286.88"/>
<use href="#Rs" x="389.38" y="286.88"/>
<use href="#Rd" x="397.5" y="286.88"/>
<use href="#Rd" x="405.62" y="286.88"/>
<use href="#Rd" x="413.74" y="286.88"/>
<use href="#Rd" x="421.86" y="286.88"/>
<use href="#Rd" x="429.98" y="286.88"/>
<use href="#Rd" x="446.1" y="286.88"/>
<use href="#Rd" x="454.22" y="286.88"/>
<use href="#Rd" x="462.34" y="286.88"/>
<use href="#Rd" x="470.46" y="286.88"/>
<use href="#Rd" x="478.58" y="286.88"/>
<use href="#Rd" x="486.7" y="286.88"/>
<use href="#Rs" x="494.82" y="286.88"/>
<use href="#Rx" x="502.94" y="286.88"/>
<use href="#Rs" x="381.26" y="295.42"/>
<use href="#Rs" x="389.38" y="295.42"/>
<use href="#Rd" x="397.5" y="295.42"/>
<use href="#Rd" x="405.62" y="295.42"/>
<use href="#Rd" x="413.74" y="295.42"/>
<use href="#Rd" x="421.86" y="295.42"/>
<use href="#Rd" x="429.98" y="295.42"/>
<use href="#Rd" x="446.1" y="295.42"/>
<use href="#Rd" x="454.22" y="295.42"/>
<use href="#Rd" x="462.34" y="295.42"/>
<use href="#Rd" x="470.46" y="295.42"/>
<use href="#Rd" x="478.58" y="295.42"/>
<use href="#Rs" x="486.7" y="295.42"/>
<use href="#Rs" x="494.82" y="295.42"/>
<use href="#Rs" x="389.38" y="303.96"/>
<use href="#Rd" x="397.5" y="303.96"/>
<use href="#Rd" x="405.62" y="303.96"/>
<use href="#Rd" x="413.74" y="303.96"/>
<use href="#Rd" x="421.86" y="303.96"/>
<use href="#Rd" x="429.98" y="303.96"/>
<use href="#Rd" x="446.1" y="303.96"/>
<use href="#Rd" x="454.22" y="303.96"/>
<use href="#Rd" x="462.34" y="303.96"/>
<use href="#Rd" x="470.46" y="303.96"/>
<use href="#Rs" x="478.58" y="303.96"/>
<use href="#Rs" x="486.7" y="303.96"/>
<use href="#Rd" x="405.62" y="312.5"/>
<use href="#Rd" x="413.74" y="312.5"/>
<use href="#Rd" x="421.86" y="312.5"/>
<use href="#Rd" x="429.98" y="312.5"/>
<use href="#Rd" x="446.1" y="312.5"/>
<use href="#Rd" x="454.22" y="312.5"/>
<use href="#Rd" x="462.34" y="312.5"/>
<use href="#Rs" x="470.46" y="312.5"/>
<text x="262.8" y="246.5" font-size="8.2" textLength="7.7" lengthAdjust="spacingAndGlyphs" fill="#505050">30</text>
<text x="567.6" y="226.4" font-size="8.5" textLength="7.9" lengthAdjust="spacingAndGlyphs" fill="#505050">30</text>
<clipPath id="cpl"><rect x="0" y="0" width="150" height="448.2"/></clipPath><clipPath id="cp36"><rect x="5.6" y="370" width="20" height="30"/></clipPath><clipPath id="cpr"><rect x="296" y="0" width="150" height="448.3"/></clipPath>
<text x="21.3" y="389.8" font-size="7.6" text-anchor="end" fill="#333"><tspan dy="-0.9" font-weight="bold">-</tspan><tspan dy="0.9">4</tspan></text>
<text x="36.7" y="389.8" font-size="7.6" text-anchor="end" fill="#333"><tspan dy="-0.9" font-weight="bold">-</tspan><tspan dy="0.9">1</tspan></text>
<text x="21.3" y="405.6" font-size="7.6" text-anchor="end" fill="#333"><tspan dy="-0.9" font-weight="bold">-</tspan><tspan dy="0.9">4</tspan></text>
<text x="36.7" y="405.6" font-size="7.6" text-anchor="end" fill="#333"><tspan dy="-0.9" font-weight="bold">-</tspan><tspan dy="0.9">1</tspan></text>
<text x="52.1" y="405.6" font-size="7.6" text-anchor="end" fill="#333"><tspan dy="-0.9" font-weight="bold">-</tspan><tspan dy="0.9">1</tspan></text>
<text x="21.3" y="421.6" font-size="7.6" text-anchor="end" fill="#333"><tspan dy="-0.9" font-weight="bold">-</tspan><tspan dy="0.9">2</tspan></text>
<text x="36.7" y="421.6" font-size="7.6" text-anchor="end" fill="#333"><tspan dy="-0.9" font-weight="bold">-</tspan><tspan dy="0.9">6</tspan></text>
<text x="52.1" y="421.6" font-size="7.6" text-anchor="end" fill="#333"><tspan dy="-0.9" font-weight="bold">-</tspan><tspan dy="0.9">2</tspan></text>
<text x="67.3" y="421.6" font-size="7.6" text-anchor="end" fill="#333"><tspan dy="-0.9" font-weight="bold">-</tspan><tspan dy="0.9">2</tspan></text>
<text x="20.9" y="437.4" font-size="7.6" text-anchor="end" fill="#333">1</text>
<text x="36.7" y="437.4" font-size="7.6" text-anchor="end" fill="#333"><tspan dy="-0.9" font-weight="bold">-</tspan><tspan dy="0.9">1</tspan></text>
<text x="71.9" y="437.4" font-size="7.6" text-anchor="end" fill="#333"><tspan dy="-0.9" font-weight="bold">-</tspan><tspan dy="0.9">12</tspan></text>
<text x="20.9" y="453.3" font-size="7.6" text-anchor="end" fill="#333" clip-path="url(#cpl)">1</text>
<text x="36.7" y="453.3" font-size="7.6" text-anchor="end" fill="#333" clip-path="url(#cpl)"><tspan dy="-0.9" font-weight="bold">-</tspan><tspan dy="0.9">2</tspan></text>
<text x="71.9" y="453.3" font-size="7.6" text-anchor="end" fill="#333" clip-path="url(#cpl)"><tspan dy="-0.9" font-weight="bold">-</tspan><tspan dy="0.9">21</tspan></text>
<text x="10.9" y="389.8" font-size="7.6" text-anchor="end" fill="#333" clip-path="url(#cp36)">36</text>
<text x="10.4" y="405.6" font-size="7.6" text-anchor="end" fill="#333">5</text>
<text x="7.6" y="421.6" font-size="7.6" text-anchor="end" fill="#333">l</text>
<text x="7.6" y="437.4" font-size="7.6" text-anchor="end" fill="#333">l</text>
<text x="313.9" y="382.3" font-size="8.3" text-anchor="end" fill="#333"><tspan dy="-0.9" font-weight="bold">-</tspan><tspan dy="0.9">6</tspan></text>
<text x="330.5" y="382.3" font-size="8.3" text-anchor="end" fill="#333"><tspan dy="-0.9" font-weight="bold">-</tspan><tspan dy="0.9">5</tspan></text>
<text x="313.9" y="400.4" font-size="8.3" text-anchor="end" fill="#333"><tspan dy="-0.9" font-weight="bold">-</tspan><tspan dy="0.9">7</tspan></text>
<text x="330.5" y="400.4" font-size="8.3" text-anchor="end" fill="#333">0</text>
<text x="346.5" y="400.4" font-size="8.3" text-anchor="end" fill="#333"><tspan dy="-0.9" font-weight="bold">-</tspan><tspan dy="0.9">3</tspan></text>
<text x="313.9" y="417" font-size="8.3" text-anchor="end" fill="#333"><tspan dy="-0.9" font-weight="bold">-</tspan><tspan dy="0.9">5</tspan></text>
<text x="330.5" y="417" font-size="8.3" text-anchor="end" fill="#333"><tspan dy="-0.9" font-weight="bold">-</tspan><tspan dy="0.9">2</tspan></text>
<text x="346.5" y="417" font-size="8.3" text-anchor="end" fill="#333"><tspan dy="-0.9" font-weight="bold">-</tspan><tspan dy="0.9">1</tspan></text>
<text x="362.8" y="417" font-size="8.3" text-anchor="end" fill="#333"><tspan dy="-0.9" font-weight="bold">-</tspan><tspan dy="0.9">6</tspan></text>
<text x="313.9" y="434.1" font-size="8.3" text-anchor="end" fill="#333"><tspan dy="-0.9" font-weight="bold">-</tspan><tspan dy="0.9">3</tspan></text>
<text x="330.5" y="434.1" font-size="8.3" text-anchor="end" fill="#333"><tspan dy="-0.9" font-weight="bold">-</tspan><tspan dy="0.9">3</tspan></text>
<text x="346.5" y="434.1" font-size="8.3" text-anchor="end" fill="#333"><tspan dy="-0.9" font-weight="bold">-</tspan><tspan dy="0.9">2</tspan></text>
<text x="362.8" y="434.1" font-size="8.3" text-anchor="end" fill="#333"><tspan dy="-0.9" font-weight="bold">-</tspan><tspan dy="0.9">3</tspan></text>
<text x="378.9" y="434.1" font-size="8.3" text-anchor="end" fill="#333"><tspan dy="-0.9" font-weight="bold">-</tspan><tspan dy="0.9">7</tspan></text>
<text x="313.9" y="451.6" font-size="8.3" text-anchor="end" fill="#333" clip-path="url(#cpr)"><tspan dy="-0.9" font-weight="bold">-</tspan><tspan dy="0.9">1</tspan></text>
<text x="330.5" y="451.6" font-size="8.3" text-anchor="end" fill="#333" clip-path="url(#cpr)"><tspan dy="-0.9" font-weight="bold">-</tspan><tspan dy="0.9">2</tspan></text>
<text x="346.5" y="451.6" font-size="8.3" text-anchor="end" fill="#333" clip-path="url(#cpr)">0</text>
<text x="362.8" y="451.6" font-size="8.3" text-anchor="end" fill="#333" clip-path="url(#cpr)"><tspan dy="-0.9" font-weight="bold">-</tspan><tspan dy="0.9">2</tspan></text>
<text x="378.9" y="451.6" font-size="8.3" text-anchor="end" fill="#333" clip-path="url(#cpr)">0</text>
</g>
<path d="M29.3 243.6L258.6 243.3" stroke="#666" stroke-width="1.1" fill="none"/>
<path d="M29.7 239.6L29.7 247.4" stroke="#666" stroke-width="1.1" fill="none"/>
<path d="M67.9 239.6L67.9 247.4" stroke="#666" stroke-width="1.1" fill="none"/>
<path d="M106.8 239.6L106.8 247.4" stroke="#666" stroke-width="1.1" fill="none"/>
<path d="M180.3 239.6L180.3 247.4" stroke="#666" stroke-width="1.1" fill="none"/>
<path d="M218.8 239.6L218.8 247.4" stroke="#666" stroke-width="1.1" fill="none"/>
<path d="M256.8 239.6L256.8 247.4" stroke="#666" stroke-width="1.1" fill="none"/>
<path d="M145 119.3L145.9 365" stroke="#666" stroke-width="1.15" fill="none"/>
<path d="M142.72 123.6L147.32 123.6" stroke="#505050" stroke-width="1.3" fill="none"/>
<path d="M142.86 163.5L147.46 163.5" stroke="#505050" stroke-width="1.3" fill="none"/>
<path d="M143.01 203.3L147.61 203.3" stroke="#505050" stroke-width="1.3" fill="none"/>
<path d="M143.3 283.5L147.9 283.5" stroke="#505050" stroke-width="1.3" fill="none"/>
<path d="M143.45 323.2L148.05 323.2" stroke="#505050" stroke-width="1.3" fill="none"/>
<path d="M143.59 362.3L148.19 362.3" stroke="#505050" stroke-width="1.3" fill="none"/>
<path d="M321.8 223.05L563.4 222.85" stroke="#666" stroke-width="1.15" fill="none"/>
<path d="M322.2 218.6L322.2 226.8" stroke="#666" stroke-width="1.1" fill="none"/>
<path d="M362.6 218.6L362.6 226.8" stroke="#666" stroke-width="1.1" fill="none"/>
<path d="M403.7 218.6L403.7 226.8" stroke="#666" stroke-width="1.1" fill="none"/>
<path d="M480.2 218.6L480.2 226.8" stroke="#666" stroke-width="1.1" fill="none"/>
<path d="M520.3 218.6L520.3 226.8" stroke="#666" stroke-width="1.1" fill="none"/>
<path d="M560.8 218.6L560.8 226.8" stroke="#666" stroke-width="1.1" fill="none"/>
<path d="M443.3 89L444.9 357" stroke="#666" stroke-width="1.1" fill="none"/>
<path d="M441.03 94.6L445.63 94.6" stroke="#505050" stroke-width="1.3" fill="none"/>
<path d="M441.29 137.3L445.89 137.3" stroke="#505050" stroke-width="1.3" fill="none"/>
<path d="M441.54 180L446.14 180" stroke="#505050" stroke-width="1.3" fill="none"/>
<path d="M442.06 266.3L446.66 266.3" stroke="#505050" stroke-width="1.3" fill="none"/>
<path d="M442.32 309.5L446.92 309.5" stroke="#505050" stroke-width="1.3" fill="none"/>
<path d="M442.57 352.5L447.17 352.5" stroke="#505050" stroke-width="1.3" fill="none"/>
<path d="M12.6 356.8L12.6 447" stroke="#787878" stroke-width="1.1" fill="none"/>
<path d="M6.2 441.9L87.2 441.9" stroke="#444" stroke-width="1.3" fill="none"/>
<path d="M304.2 346L304.2 447" stroke="#787878" stroke-width="1.1" fill="none"/>
<path d="M300.7 439.3L382.6 439.3" stroke="#444" stroke-width="1.3" fill="none"/>
</svg></body></html>
